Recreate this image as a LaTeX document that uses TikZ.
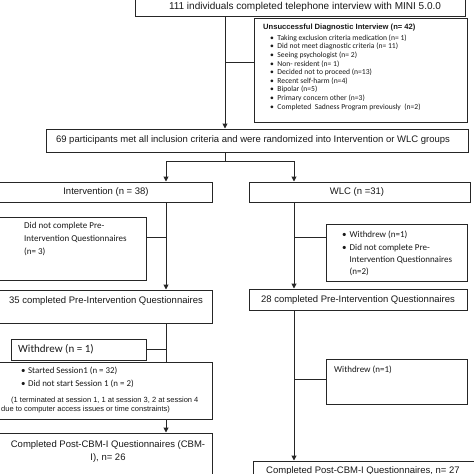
\documentclass[tikz,border=0pt]{standalone}
\usepackage{fontspec}
\setmainfont{Liberation Sans}
\newfontfamily\calib{Carlito}
\usetikzlibrary{fit,arrows.meta}
\tikzset{
  box/.style={draw=black!85, line width=1pt, inner sep=0pt, fill=white},
  txt/.style={inner sep=0pt, font=\fontsize{9.5}{12}\selectfont, text=black!90},
  ln/.style={draw=black!85, line width=1pt},
  arr/.style={ln, -{Triangle[length=5pt,width=5pt]}},
}
\begin{document}
\begin{tikzpicture}[x=1pt,y=-1pt]
\useasboundingbox (0,0) rectangle (474,474);
\clip (0,0) rectangle (474,474);
% boxes
\node[box, fit={(135,-5) (465,16)}] (top) {};
\node[box, fit={(254,18) (467,122)}] (uns) {};
\node[box, fit={(46,129) (468,152)}] (rand) {};
\node[box, fit={(-2,182) (212,202)}] (int) {};
\node[box, fit={(249,182) (470,202)}] (wlc) {};
\node[box, fit={(-2,217) (146,280)}] (dnc) {};
\node[box, fit={(-2,290) (212,323)}] (pre35) {};
\node[box, fit={(11,339) (146,360)}] (wd1) {};
\node[box, fit={(-2,362) (212,419)}] (sess) {};
\node[box, fit={(-2,433) (212,476)}] (post26) {};
\node[box, fit={(326,224) (467,281)}] (rdnc) {};
\node[box, fit={(249,289) (467,310)}] (pre28) {};
\node[box, fit={(326,359) (467,404)}] (rwd) {};
\node[box, fit={(253,461) (478,490)}] (post27) {};
% columns and junctions
\coordinate (c0) at (225,0);
\coordinate (cl) at (166,0);
\coordinate (cr) at (294,0);
\coordinate (j1) at (225,62);
\coordinate (j2) at (225,161);
\coordinate (jl1) at (166,237);
\coordinate (jr1) at (294,237);
\coordinate (jl2) at (166,349);
\coordinate (jr2) at (294,379);
% connectors
\draw[arr] (top.south -| c0) -- (rand.north -| c0);
\draw[ln] (j1) -- (j1 -| uns.west);
\draw[ln] (rand.south -| c0) -- (j2);
\draw[ln] (j2 -| cl) -- (j2 -| cr);
\draw[arr] (j2 -| cl) -- (int.north -| cl);
\draw[arr] (j2 -| cr) -- (wlc.north -| cr);
\draw[arr] (int.south -| cl) -- (pre35.north -| cl);
\draw[ln] (dnc.east |- jl1) -- (jl1);
\draw[arr] (wlc.south -| cr) -- (pre28.north -| cr);
\draw[ln] (jr1) -- (rdnc.west |- jr1);
\draw[ln] (pre35.south -| cl) -- (sess.north -| cl);
\draw[ln] (wd1.east |- jl2) -- (jl2);
\draw[arr] (sess.south -| cl) -- (post26.north -| cl);
\draw[arr] (pre28.south -| cr) -- (post27.north -| cr);
\draw[ln] (jr2) -- (rwd.west |- jr2);
% texts
\node[txt, font=\fontsize{10}{12}\selectfont] (ttop) at (305,7) {111 individuals completed telephone interview with MINI 5.0.0};
\node[txt, anchor=west, font=\bfseries\fontsize{7.6}{9}\selectfont] (tuns) at (263,28) {Unsuccessful Diagnostic Interview (n= 42)};
\node[txt, anchor=north west, align=left, font=\calib\fontsize{7.6}{8.6}\selectfont] (tunsl) at (270,34.5) {%
\textbullet\hspace{3.5pt}Taking exclusion criteria medication (n= 1)\\
\textbullet\hspace{3.5pt}Did not meet diagnostic criteria (n= 11)\\
\textbullet\hspace{3.5pt}Seeing psychologist (n= 2)\\
\textbullet\hspace{3.5pt}Non- resident (n= 1)\\
\textbullet\hspace{3.5pt}Decided not to proceed (n=13)\\
\textbullet\hspace{3.5pt}Recent self-harm (n=4)\\
\textbullet\hspace{3.5pt}Bipolar (n=5)\\
\textbullet\hspace{3.5pt}Primary concern other (n=3)\\
\textbullet\hspace{3.5pt}Completed \ Sadness Program previously \ (n=2)};
\node[txt] (trand) at (253,140) {69 participants met all inclusion criteria and were randomized into Intervention or WLC groups};
\node[txt] (tint) at (106,192) {Intervention (n = 38)};
\node[txt] (twlc) at (357,192) {WLC (n =31)};
\node[txt, anchor=north west, align=left, font=\calib\fontsize{9}{13}\selectfont] (tdnc) at (24,222) {Did not complete Pre-\\Intervention Questionnaires\\(n= 3)};
\node[txt] (tpre35) at (106,301) {35 completed Pre-Intervention Questionnaires};
\node[txt, anchor=west, font=\calib\fontsize{11}{13}\selectfont] (twd1) at (18,349.5) {Withdrew (n = 1)};
\node[txt, anchor=north west, align=left, font=\calib\fontsize{8.9}{13}\selectfont] (tsess) at (21,367) {\textbullet\hspace{2.5pt}Started Session1 (n = 32)\\\textbullet\hspace{2.5pt}Did not start Session 1 (n = 2)};
\node[txt, anchor=north west, align=left, font=\fontsize{7.5}{9.5}\selectfont] (tnote) at (1,396.5) {\hspace*{10pt}(1 terminated at session 1, 1 at session 3, 2 at session 4\\due to computer access issues or time constraints)};
\node[txt, align=center, font=\fontsize{9.5}{13}\selectfont] (tpost26) at (108,452) {Completed Post-CBM-I Questionnaires (CBM-\\I), n= 26};
\node[txt, anchor=north west, align=left, font=\calib\fontsize{9}{12.3}\selectfont] (trdnc) at (342,231) {\textbullet\hspace{3pt}Withdrew (n=1)\\\textbullet\hspace{3pt}Did not complete Pre-\\\phantom{\textbullet\hspace{3pt}}Intervention Questionnaires\\\phantom{\textbullet\hspace{3pt}}(n=2)};
\node[txt] (tpre28) at (358,300) {28 completed Pre-Intervention Questionnaires};
\node[txt, anchor=west, font=\calib\fontsize{9}{11}\selectfont] (trwd) at (334,370) {Withdrew (n=1)};
\node[txt, anchor=west] (tpost27) at (266,471) {Completed Post-CBM-I Questionnaires, n= 27};
\end{tikzpicture}
\end{document}
